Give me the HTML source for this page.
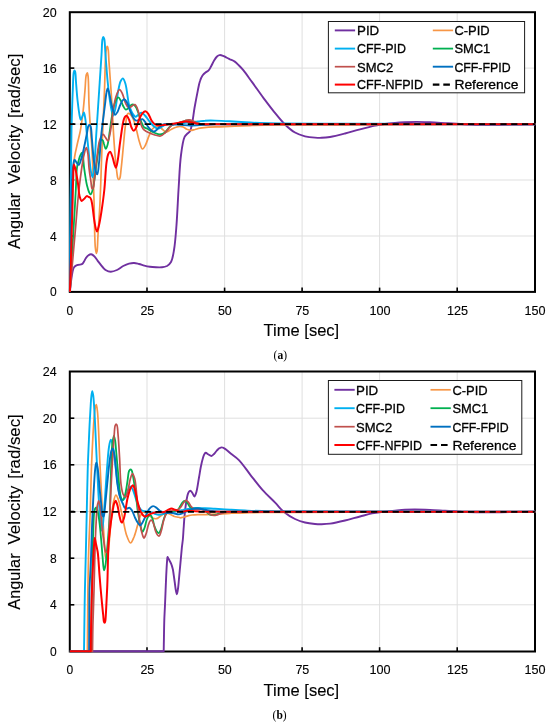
<!DOCTYPE html>
<html lang="en"><head><meta charset="utf-8"><title>Angular velocity responses</title>
<style>html,body{margin:0;padding:0;background:#fff}svg{display:block}</style></head>
<body>
<svg width="550" height="726" viewBox="0 0 550 726">
<rect width="550" height="726" fill="#fff"/>
<g stroke="#dfdfdf" stroke-width="1" fill="none">
<path d="M147.0,12.2 V291.9"/><path d="M224.6,12.2 V291.9"/><path d="M302.1,12.2 V291.9"/><path d="M379.6,12.2 V291.9"/><path d="M457.2,12.2 V291.9"/><path d="M69.8,236.0 H535.0"/><path d="M69.8,180.0 H535.0"/><path d="M69.8,124.1 H535.0"/><path d="M69.8,68.1 H535.0"/>
</g>
<rect x="69.8" y="12.2" width="465.2" height="279.7" fill="none" stroke="#000" stroke-width="2"/>
<g stroke="#000" stroke-width="1.6" fill="none">
<path d="M147.0,291.9 v-4.3"/><path d="M224.6,291.9 v-4.3"/><path d="M302.1,291.9 v-4.3"/><path d="M379.6,291.9 v-4.3"/><path d="M457.2,291.9 v-4.3"/><path d="M69.8,236.0 h4.5"/><path d="M69.8,180.0 h4.5"/><path d="M69.8,124.1 h4.5"/><path d="M69.8,68.1 h4.5"/>
</g>
<g fill="none" stroke-linejoin="round" stroke-linecap="butt">
<path d="M69.9,291.9C69.9,291.9 70.8,283.1 71.3,279.4C71.7,276.5 72.1,273.7 72.6,271.5C73.0,269.9 73.2,268.5 73.9,267.5C74.4,266.7 75.2,266.1 76.0,265.6C76.8,265.2 77.7,265.0 78.6,264.8C79.6,264.5 81.0,264.7 81.9,264.2C82.8,263.7 83.4,262.5 84.0,261.5C84.7,260.5 85.1,259.2 85.8,258.2C86.6,257.2 87.5,256.0 88.5,255.3C89.3,254.7 90.2,254.1 91.1,254.2C92.1,254.3 93.1,255.1 94.0,256.0C95.3,257.1 96.4,259.1 97.7,260.8C99.3,262.9 101.4,265.8 103.0,267.5C104.1,268.7 104.8,269.6 106.0,270.3C107.3,271.1 109.1,271.7 110.8,271.7C112.7,271.7 115.0,270.9 117.0,270.0C119.1,269.0 121.1,267.1 123.2,266.0C125.1,265.0 127.1,264.1 129.0,263.6C130.7,263.2 132.4,262.9 134.1,263.0C135.8,263.1 137.3,263.6 139.0,264.0C140.7,264.4 142.5,265.1 144.3,265.6C146.2,266.1 148.1,266.5 150.0,266.8C152.0,267.1 154.0,267.2 156.0,267.3C158.0,267.4 160.1,267.5 162.0,267.3C163.8,267.1 165.5,266.8 167.0,266.0C168.5,265.1 169.9,263.9 171.0,262.0C172.6,259.2 173.2,254.8 174.0,250.0C175.2,243.2 175.8,234.0 176.5,225.0C177.3,214.3 177.8,201.7 178.5,190.0C179.3,178.3 179.7,164.7 181.0,155.0C181.9,147.9 182.9,140.4 184.6,136.9C185.4,135.2 186.5,134.5 187.5,133.5C188.4,132.6 189.4,132.2 190.1,131.0C191.1,129.3 191.4,126.8 192.0,124.0C192.9,119.8 193.6,113.4 194.5,108.0C195.5,102.4 196.7,96.0 197.7,91.1C198.5,87.3 199.0,83.8 200.0,81.0C200.7,78.8 201.5,77.0 202.5,75.5C203.4,74.3 204.4,73.4 205.5,72.5C206.5,71.7 207.7,71.3 208.6,70.4C209.6,69.4 210.2,68.0 211.0,66.5C212.0,64.7 213.0,62.3 214.1,60.5C215.0,59.0 216.0,57.4 217.0,56.5C217.8,55.8 218.6,55.2 219.5,55.1C220.5,54.9 221.9,55.4 223.0,55.8C224.1,56.2 225.0,56.8 226.1,57.3C227.3,57.9 228.6,58.6 230.0,59.3C231.5,60.0 233.3,60.6 234.8,61.6C236.3,62.6 237.6,64.1 239.0,65.5C240.5,67.0 241.8,68.3 243.5,70.4C246.0,73.5 249.2,78.2 252.3,82.4C255.8,87.2 259.5,92.6 263.2,97.6C266.8,102.4 270.4,107.3 274.1,111.8C277.6,116.1 281.0,120.6 284.7,124.2C288.0,127.4 291.4,130.4 295.0,132.5C298.2,134.3 301.6,135.4 305.0,136.3C308.3,137.1 312.0,137.4 315.0,137.6C317.4,137.8 319.2,137.9 321.5,137.8C324.1,137.7 326.8,137.5 330.0,137.0C334.3,136.3 340.0,134.8 345.0,133.5C350.0,132.2 355.0,130.6 360.0,129.3C365.0,128.0 370.8,126.5 375.0,125.6C378.1,125.0 380.1,124.6 383.0,124.2C386.6,123.7 391.2,123.2 395.0,122.9C398.5,122.6 401.5,122.4 405.0,122.2C408.8,122.0 412.9,121.9 417.0,121.9C421.2,121.9 425.3,122.1 430.0,122.3C435.5,122.5 442.1,123.0 448.0,123.3C453.7,123.6 459.5,123.9 465.0,124.2C470.2,124.4 475.0,124.7 480.0,124.8C485.0,124.9 489.6,124.8 495.0,124.8C501.2,124.8 515.0,124.5 515.0,124.5L535.2,124.2" stroke="#7030a0" stroke-width="1.9"/>
<path d="M69.9,291.9C69.9,291.9 70.5,245.1 71.0,225.0C71.4,208.5 71.7,192.5 72.5,180.0C73.1,171.0 73.6,163.6 74.6,157.0C75.3,152.0 76.4,148.3 77.3,144.0C78.2,139.8 79.3,136.0 80.2,131.5C81.2,126.2 82.0,120.3 82.8,114.0C83.7,106.6 84.4,97.1 85.0,90.0C85.5,84.4 85.5,77.4 86.3,74.8C86.6,73.8 87.0,72.8 87.3,72.8C87.7,72.9 87.8,74.6 88.1,76.4C88.7,81.4 88.6,95.4 89.0,104.5C89.4,113.2 90.0,122.2 90.5,130.0C90.9,136.5 91.5,140.4 91.9,148.0C92.7,160.8 93.4,183.1 94.0,200.0C94.5,216.1 94.5,238.9 95.3,247.2C95.6,250.2 95.9,253.3 96.3,253.3C96.5,253.3 96.8,252.3 97.1,251.2C97.6,248.4 97.6,241.2 98.0,235.0C98.5,226.4 99.3,216.2 99.9,204.5C100.7,188.6 101.2,167.0 102.0,148.0C102.8,128.8 103.8,107.4 104.5,90.0C105.1,75.8 105.0,58.2 106.0,51.4C106.3,48.9 106.8,46.4 107.2,46.4C107.5,46.4 107.8,47.3 108.0,48.2C108.6,50.6 108.6,56.3 109.0,62.0C109.6,71.1 110.7,84.5 111.5,97.3C112.5,112.7 113.4,134.2 114.5,148.0C115.2,157.5 116.1,166.5 116.8,172.0C117.2,174.9 117.3,177.5 117.9,178.6C118.2,179.1 118.5,179.5 118.8,179.5C119.1,179.5 119.5,179.0 119.8,178.4C120.5,177.0 120.6,173.5 121.0,170.0C121.7,164.4 122.5,155.4 123.2,148.0C124.0,140.4 124.5,131.3 125.5,125.0C126.2,120.5 126.6,114.3 128.0,113.5C128.7,113.1 129.8,113.9 130.5,114.5C131.5,115.3 132.2,116.8 133.0,118.5C134.1,120.9 135.0,124.5 136.0,128.0C137.2,132.2 138.2,138.2 139.5,142.0C140.4,144.8 141.4,148.9 142.5,149.0C143.4,149.1 144.6,146.7 145.5,145.0C146.8,142.6 147.8,138.6 149.0,135.9C150.0,133.6 150.7,131.1 152.0,129.5C153.0,128.3 154.2,127.2 155.5,126.8C156.7,126.4 158.1,126.4 159.2,126.8C160.3,127.2 161.1,128.3 162.0,129.0C162.8,129.7 163.4,130.5 164.3,131.0C165.1,131.5 166.0,131.9 167.0,131.8C168.2,131.7 169.6,130.2 171.0,129.5C172.5,128.7 174.3,127.7 175.9,127.2C177.3,126.7 178.7,126.3 180.0,126.3C181.1,126.3 182.1,126.6 183.2,127.0C184.5,127.5 185.7,128.7 187.0,129.3C188.2,129.8 189.3,130.2 190.5,130.3C191.9,130.4 193.5,129.8 195.0,129.5C196.6,129.1 198.1,128.6 200.0,128.2C202.5,127.7 205.5,127.3 208.6,127.1C212.1,126.8 215.9,126.9 220.0,126.8C224.7,126.6 230.0,126.4 235.0,126.2C240.0,126.0 245.0,125.8 250.0,125.6C255.0,125.4 259.4,125.2 265.0,125.1C272.3,124.9 280.2,125.0 290.0,124.9C303.8,124.8 321.4,124.8 340.0,124.8C363.5,124.7 396.5,124.6 420.0,124.5C438.6,124.4 470.0,124.2 470.0,124.2L535.2,124.2" stroke="#f79646" stroke-width="1.7"/>
<path d="M69.9,291.9C69.9,291.9 70.2,228.6 70.5,200.0C70.8,175.1 71.0,150.1 71.5,130.0C71.9,114.8 72.3,100.6 72.8,90.0C73.1,83.0 73.1,75.7 73.7,72.7C74.0,71.5 74.2,70.4 74.5,70.4C74.7,70.4 75.0,71.1 75.2,71.7C75.7,73.5 75.7,78.1 76.0,82.0C76.4,87.2 76.9,94.3 77.5,100.0C78.1,105.2 78.8,111.4 79.5,115.0C79.9,117.1 80.3,119.8 80.8,119.8C81.3,119.8 82.0,117.2 82.5,116.0C83.0,114.8 83.5,112.5 83.9,112.5C84.4,112.5 84.8,115.7 85.2,118.0C85.9,121.9 86.2,128.0 86.8,133.6C87.5,140.2 88.3,148.3 89.0,155.0C89.7,161.0 90.2,168.0 91.0,172.0C91.5,174.3 92.1,177.3 92.6,177.3C93.3,177.2 93.8,170.1 94.3,165.0C95.1,157.0 95.6,144.9 96.3,133.6C97.2,120.3 98.3,103.7 99.2,90.0C100.0,77.7 100.9,64.4 101.5,55.0C101.9,48.6 101.9,41.8 102.5,39.0C102.7,37.9 103.0,36.9 103.3,36.9C103.6,36.9 104.0,37.9 104.3,39.0C105.0,41.8 105.0,49.1 105.5,55.0C106.1,62.4 106.8,72.4 107.5,80.0C108.1,86.5 108.8,92.6 109.5,98.0C110.1,102.4 110.7,106.8 111.5,110.0C112.0,112.2 112.7,115.5 113.3,115.5C114.0,115.5 114.8,111.0 115.5,108.0C116.5,103.7 117.1,96.8 118.0,92.0C118.8,88.1 119.4,83.9 120.5,81.5C121.2,80.1 122.1,78.3 122.9,78.4C123.8,78.5 124.7,81.5 125.5,84.0C126.9,88.6 127.7,99.5 129.0,104.5C129.8,107.5 130.6,109.7 131.5,111.5C132.1,112.8 132.7,113.8 133.4,114.7C134.0,115.5 134.7,116.7 135.5,116.8C136.4,116.9 137.5,115.2 138.5,114.5C139.5,113.8 140.7,112.5 141.7,112.6C142.8,112.7 144.0,114.4 145.0,115.5C146.2,116.8 147.2,118.4 148.3,119.9C149.5,121.4 150.7,123.2 152.0,124.5C153.1,125.7 154.3,126.9 155.5,127.6C156.5,128.2 157.6,128.7 158.5,128.6C159.4,128.5 160.1,127.8 161.0,127.3C162.0,126.7 162.9,125.8 164.0,125.3C165.2,124.8 166.4,124.6 168.0,124.4C170.2,124.1 173.3,124.0 176.0,123.8C178.7,123.6 181.4,123.3 184.0,123.0C186.4,122.7 188.7,122.5 191.0,122.2C193.3,121.9 195.7,121.7 198.0,121.4C200.3,121.2 202.5,120.8 205.0,120.7C208.0,120.5 211.3,120.5 215.0,120.6C219.5,120.7 225.0,121.0 230.0,121.3C235.0,121.6 240.0,122.0 245.0,122.3C250.0,122.6 254.6,122.8 260.0,123.0C266.2,123.2 272.2,123.3 280.0,123.4C291.0,123.5 305.3,123.5 320.0,123.6C338.0,123.7 359.2,123.7 380.0,123.8C402.4,123.9 431.5,124.0 450.0,124.1C462.1,124.1 480.0,124.2 480.0,124.2L535.2,124.2" stroke="#00b0f0" stroke-width="1.9"/>
<path d="M69.9,291.9C69.9,291.9 71.7,259.5 72.6,245.0C73.3,232.5 74.1,220.3 74.7,210.0C75.2,201.8 75.5,195.2 75.9,188.0C76.3,181.0 76.3,172.6 77.0,167.5C77.5,164.4 78.2,162.2 78.8,160.0C79.3,158.2 79.7,156.6 80.3,155.3C80.8,154.2 81.6,152.5 82.0,152.6C82.5,152.7 82.7,155.2 83.0,157.0C83.5,159.9 83.6,164.4 84.2,168.6C84.9,173.6 85.9,180.7 86.9,185.0C87.6,187.8 88.2,190.3 89.0,192.0C89.5,193.1 90.2,194.5 90.8,194.4C91.6,194.3 92.3,190.8 93.0,188.0C94.2,183.2 95.1,174.5 96.0,168.0C96.9,161.8 97.6,155.0 98.5,150.0C99.2,146.3 99.4,141.7 100.6,140.5C101.1,139.9 102.0,139.7 102.5,140.0C103.3,140.4 103.5,142.6 104.0,144.0C104.6,145.5 105.1,148.9 105.7,148.9C106.3,148.9 107.0,146.7 107.5,145.0C108.4,142.1 108.9,137.2 109.5,133.0C110.2,128.5 110.7,123.7 111.5,119.0C112.3,114.1 113.1,107.9 114.5,104.0C115.5,101.2 116.9,97.4 118.1,97.3C119.1,97.2 120.2,99.6 121.0,101.0C121.9,102.5 122.4,104.5 123.2,106.0C123.9,107.3 124.6,109.2 125.5,109.5C126.2,109.7 127.2,109.1 128.0,108.5C128.9,107.8 129.6,106.2 130.5,105.5C131.3,104.9 132.2,104.2 133.0,104.3C133.9,104.4 134.8,105.5 135.5,106.5C136.5,107.8 137.2,109.9 138.0,112.0C139.0,114.6 139.9,118.3 141.0,121.0C141.9,123.3 142.6,126.0 143.9,127.2C144.8,128.1 146.0,128.0 147.0,128.5C148.0,129.1 148.8,129.8 150.0,130.5C151.4,131.3 153.3,132.3 155.0,133.0C156.6,133.7 158.3,134.6 160.0,134.5C161.7,134.4 163.6,133.6 165.0,132.5C166.5,131.4 167.4,129.3 168.6,128.0C169.7,126.8 170.7,125.7 172.0,125.0C173.2,124.3 174.7,124.2 176.0,123.8C177.3,123.4 178.6,123.0 180.0,122.5C181.6,122.0 183.4,121.2 185.0,120.8C186.4,120.5 187.7,120.2 189.0,120.3C190.3,120.4 191.6,121.0 193.0,121.5C194.6,122.1 196.2,123.0 198.0,123.5C200.1,124.0 205.0,124.2 205.0,124.2L535.2,124.2" stroke="#00b050" stroke-width="1.8"/>
<path d="M69.9,291.9C69.9,291.9 72.5,262.2 73.6,250.0C74.4,240.6 75.1,233.3 75.8,225.0C76.5,216.7 77.2,207.3 77.9,200.0C78.4,194.4 78.8,190.5 79.5,185.0C80.3,178.4 81.5,169.1 82.5,163.0C83.2,158.5 84.0,154.3 84.8,151.5C85.3,149.8 85.9,147.6 86.4,147.6C86.9,147.6 87.4,150.7 87.8,153.0C88.5,156.8 88.5,163.6 89.1,168.6C89.6,173.2 90.5,178.4 91.0,182.0C91.3,184.4 91.4,187.0 91.8,188.0C92.0,188.4 92.3,188.8 92.5,188.8C92.8,188.8 93.1,188.4 93.3,187.9C93.9,186.7 93.9,183.9 94.3,181.0C94.9,176.4 95.4,169.2 96.3,162.7C97.3,155.4 98.1,144.3 99.9,139.5C100.8,137.1 102.1,134.5 103.1,134.4C103.9,134.4 104.7,136.4 105.5,137.5C106.3,138.6 107.2,141.0 107.9,140.9C109.0,140.7 109.7,134.9 110.5,131.0C111.5,125.7 112.0,117.8 113.0,111.8C113.9,106.4 114.6,100.5 116.0,96.5C117.0,93.7 118.3,89.8 119.5,89.7C120.5,89.6 121.6,92.2 122.5,94.0C123.7,96.4 124.4,100.7 125.5,103.0C126.3,104.7 127.0,106.4 128.0,107.0C128.7,107.4 129.7,107.4 130.5,107.2C131.4,106.9 132.2,105.7 133.0,105.3C133.7,104.9 134.4,104.4 135.0,104.6C135.8,104.9 136.4,106.3 137.0,107.5C137.8,109.2 138.4,111.6 139.0,114.0C139.8,117.1 140.1,121.8 141.0,124.5C141.6,126.3 142.1,127.6 143.0,128.8C143.8,129.9 144.8,130.5 146.0,131.3C147.6,132.3 150.1,133.3 152.0,134.0C153.7,134.6 155.5,135.2 157.0,135.5C158.3,135.8 159.3,136.3 160.5,136.0C162.0,135.7 163.7,134.2 165.0,133.0C166.4,131.8 167.4,130.0 168.6,128.6C169.7,127.3 170.7,125.9 172.0,125.0C173.2,124.2 174.6,124.0 176.0,123.5C177.6,123.0 179.4,122.5 181.0,122.0C182.5,121.5 184.1,120.9 185.5,120.5C186.7,120.2 187.8,119.8 189.0,119.9C190.3,120.0 191.6,120.5 193.0,121.0C194.5,121.6 196.1,122.7 197.7,123.2C199.4,123.7 201.1,124.0 203.0,124.2C205.2,124.4 210.0,124.2 210.0,124.2L535.2,124.2" stroke="#c0504d" stroke-width="1.7"/>
<path d="M69.9,291.9C69.9,291.9 70.4,249.0 70.8,230.0C71.1,213.8 71.5,197.0 72.0,185.0C72.4,177.0 72.6,169.5 73.3,165.0C73.6,162.7 73.9,159.9 74.5,159.8C75.0,159.7 75.8,161.6 76.5,162.5C77.2,163.3 78.1,165.0 78.8,164.9C79.8,164.7 80.7,160.5 81.5,158.0C82.4,155.0 83.1,151.8 83.9,148.2C84.9,143.7 86.2,137.1 87.0,133.0C87.6,130.2 87.7,127.0 88.5,125.8C88.8,125.3 89.3,124.8 89.7,124.9C90.1,125.0 90.4,125.7 90.7,126.6C91.5,129.0 91.5,135.0 92.0,140.0C92.6,146.6 93.2,156.8 94.1,162.7C94.7,166.5 95.3,169.9 96.0,172.0C96.4,173.1 96.9,174.5 97.3,174.4C98.1,174.3 98.5,167.7 99.0,163.0C99.9,155.5 100.4,143.4 101.4,133.6C102.4,123.9 104.1,112.1 105.0,104.5C105.6,99.6 105.9,95.4 106.5,92.5C106.8,90.8 107.2,88.5 107.6,88.5C108.0,88.5 108.5,90.4 109.0,92.0C109.8,94.9 110.6,100.9 111.5,104.5C112.2,107.2 112.8,109.6 113.5,111.5C114.0,112.8 114.5,114.6 115.2,114.7C115.9,114.8 116.8,113.2 117.5,112.0C118.5,110.4 119.1,107.5 120.0,105.5C120.8,103.7 121.6,101.6 122.5,100.5C123.1,99.8 123.7,99.1 124.3,99.2C125.2,99.3 126.2,101.0 127.0,102.5C128.3,104.7 129.3,109.0 130.5,111.8C131.5,114.1 132.4,116.4 133.5,118.0C134.3,119.1 134.9,120.3 135.9,120.6C136.8,120.9 137.9,120.2 139.0,120.0C140.1,119.8 141.5,118.9 142.5,119.2C143.7,119.6 144.6,121.3 145.5,122.5C146.5,123.9 147.2,125.8 148.3,127.2C149.3,128.5 150.4,129.8 151.5,130.5C152.4,131.1 153.2,131.6 154.1,131.5C155.1,131.4 156.1,130.3 157.0,129.5C158.0,128.6 158.8,127.4 159.9,126.5C161.2,125.6 162.7,124.6 164.3,124.2C166.0,123.8 167.8,124.1 170.0,124.2C172.9,124.3 176.7,124.6 180.0,124.8C183.3,125.0 186.7,125.5 190.0,125.5C193.3,125.5 196.3,125.2 200.0,125.0C204.5,124.8 215.0,124.4 215.0,124.4L535.2,124.2" stroke="#0070c0" stroke-width="1.9"/>
<path d="M69.9,291.9C69.9,291.9 70.8,264.2 71.2,250.0C71.6,235.3 72.1,218.1 72.5,205.0C72.8,194.9 72.9,185.5 73.2,178.0C73.4,172.7 73.3,164.6 73.9,164.5C74.2,164.5 74.8,166.7 75.2,168.0C75.7,169.7 76.0,171.7 76.4,174.0C76.9,177.0 77.6,180.9 78.1,184.5C78.6,188.2 78.7,192.8 79.5,195.8C80.1,197.9 80.7,200.7 81.7,200.9C82.5,201.1 83.6,199.3 84.5,198.5C85.3,197.7 86.0,196.3 86.8,196.1C87.4,196.0 87.9,196.5 88.5,196.8C89.2,197.1 90.0,197.3 90.5,198.0C91.5,199.3 91.8,202.2 92.3,205.0C93.0,208.9 93.4,214.9 94.1,219.1C94.6,222.6 95.2,226.3 95.8,228.5C96.2,229.8 96.6,231.5 97.0,231.5C97.6,231.5 98.2,228.3 98.8,226.0C99.7,222.4 100.6,217.0 101.4,211.8C102.4,205.3 103.5,197.7 104.3,190.0C105.2,181.4 105.6,169.2 106.5,162.7C107.0,159.0 107.4,155.9 108.3,154.0C108.8,152.9 109.5,151.7 110.1,151.8C110.9,151.9 111.8,155.1 112.5,157.0C113.3,159.2 113.8,162.5 114.5,164.5C115.0,165.8 115.5,167.8 115.9,167.8C116.6,167.7 117.2,163.2 117.8,160.0C118.7,155.1 119.3,147.5 120.3,140.9C121.3,133.9 122.6,122.9 123.9,119.1C124.4,117.6 124.9,116.7 125.5,116.2C125.9,115.9 126.4,115.7 126.8,115.9C127.6,116.2 128.3,118.0 129.0,119.5C130.0,121.6 130.5,125.5 131.5,127.5C132.2,128.9 132.9,130.8 133.7,130.8C134.4,130.8 135.3,129.3 136.0,128.0C137.2,125.9 138.0,121.7 139.2,119.1C140.2,116.9 141.3,114.6 142.5,113.3C143.4,112.3 144.4,111.3 145.3,111.3C146.3,111.3 147.4,112.6 148.3,113.8C149.5,115.4 150.3,118.7 151.5,120.5C152.4,121.9 153.3,123.2 154.5,124.0C155.5,124.7 156.7,125.1 158.0,125.3C159.5,125.5 161.3,125.1 163.0,125.0C164.7,124.8 166.2,124.6 168.0,124.4C170.1,124.1 172.8,123.9 175.0,123.5C177.1,123.2 179.1,122.7 181.0,122.3C182.7,122.0 184.3,121.4 186.0,121.4C187.7,121.4 189.3,121.8 191.0,122.2C192.9,122.6 194.8,123.5 197.0,123.8C199.5,124.2 205.0,124.2 205.0,124.2L535.2,124.2" stroke="#ff0000" stroke-width="2.0"/>
<path d="M69.2,124.2 H535.0" stroke="#000" stroke-width="1.7" stroke-dasharray="6.2 4.58"/>
</g>
<g font-family="Liberation Sans, Arial, sans-serif" fill="#000" stroke="#000" stroke-width="0.12">
<text x="56.6" y="296.4" font-size="13.0" text-anchor="end" textLength="6.7" lengthAdjust="spacingAndGlyphs" >0</text>
<text x="56.6" y="240.5" font-size="13.0" text-anchor="end" textLength="6.7" lengthAdjust="spacingAndGlyphs" >4</text>
<text x="56.6" y="184.5" font-size="13.0" text-anchor="end" textLength="6.7" lengthAdjust="spacingAndGlyphs" >8</text>
<text x="56.6" y="128.6" font-size="13.0" text-anchor="end" textLength="13.9" lengthAdjust="spacingAndGlyphs" >12</text>
<text x="56.6" y="72.6" font-size="13.0" text-anchor="end" textLength="13.9" lengthAdjust="spacingAndGlyphs" >16</text>
<text x="56.6" y="16.7" font-size="13.0" text-anchor="end" textLength="13.9" lengthAdjust="spacingAndGlyphs" >20</text>
<text x="66.5" y="315.2" font-size="13.0" text-anchor="start" textLength="6.7" lengthAdjust="spacingAndGlyphs" >0</text>
<text x="140.4" y="315.2" font-size="13.0" text-anchor="start" textLength="13.9" lengthAdjust="spacingAndGlyphs" >25</text>
<text x="217.9" y="315.2" font-size="13.0" text-anchor="start" textLength="13.9" lengthAdjust="spacingAndGlyphs" >50</text>
<text x="295.4" y="315.2" font-size="13.0" text-anchor="start" textLength="13.9" lengthAdjust="spacingAndGlyphs" >75</text>
<text x="369.4" y="315.2" font-size="13.0" text-anchor="start" textLength="21.1" lengthAdjust="spacingAndGlyphs" >100</text>
<text x="446.9" y="315.2" font-size="13.0" text-anchor="start" textLength="21.1" lengthAdjust="spacingAndGlyphs" >125</text>
<text x="524.4" y="315.2" font-size="13.0" text-anchor="start" textLength="21.1" lengthAdjust="spacingAndGlyphs" >150</text>
<text x="263.6" y="336.4" font-size="16.0" text-anchor="start" textLength="75.6" lengthAdjust="spacingAndGlyphs" >Time [sec]</text>
<text transform="translate(20.3,249.0) rotate(-90)" font-size="16" textLength="56.3" lengthAdjust="spacingAndGlyphs">Angular</text>
<text transform="translate(20.3,183.9) rotate(-90)" font-size="16" textLength="58.9" lengthAdjust="spacingAndGlyphs">Velocity</text>
<text transform="translate(20.3,118.0) rotate(-90)" font-size="16" textLength="64.4" lengthAdjust="spacingAndGlyphs">[rad/sec]</text>
</g>
<rect x="328.4" y="21.5" width="196.2" height="71.3" fill="#fff" stroke="#1a1a1a" stroke-width="1"/>
<g font-family="Liberation Sans, Arial, sans-serif" fill="#000" stroke="#000" stroke-width="0.3">
<path d="M334.8,30.4 h20.3" stroke="#7030a0" stroke-width="1.9" fill="none"/><text x="357.0" y="35.2" font-size="13.5" text-anchor="start" textLength="22.2" lengthAdjust="spacingAndGlyphs" >PID</text>
<path d="M334.8,48.6 h20.3" stroke="#00b0f0" stroke-width="1.9" fill="none"/><text x="357.0" y="53.4" font-size="13.5" text-anchor="start" textLength="49.0" lengthAdjust="spacingAndGlyphs" >CFF-PID</text>
<path d="M334.8,66.7 h20.3" stroke="#c0504d" stroke-width="1.7" fill="none"/><text x="357.0" y="71.5" font-size="13.5" text-anchor="start" textLength="36.2" lengthAdjust="spacingAndGlyphs" >SMC2</text>
<path d="M334.8,84.6 h20.3" stroke="#ff0000" stroke-width="2.0" fill="none"/><text x="357.0" y="89.4" font-size="13.5" text-anchor="start" textLength="66.0" lengthAdjust="spacingAndGlyphs" >CFF-NFPID</text>
<path d="M432.8,30.4 h20.3" stroke="#f79646" stroke-width="1.7" fill="none"/><text x="454.4" y="35.2" font-size="13.5" text-anchor="start" textLength="35.2" lengthAdjust="spacingAndGlyphs" >C-PID</text>
<path d="M432.8,48.6 h20.3" stroke="#00b050" stroke-width="1.8" fill="none"/><text x="454.4" y="53.4" font-size="13.5" text-anchor="start" textLength="35.8" lengthAdjust="spacingAndGlyphs" >SMC1</text>
<path d="M432.8,66.7 h20.3" stroke="#0070c0" stroke-width="1.9" fill="none"/><text x="454.4" y="71.5" font-size="13.5" text-anchor="start" textLength="56.2" lengthAdjust="spacingAndGlyphs" >CFF-FPID</text>
<path d="M432.8,84.6 h20.3" stroke="#000" stroke-width="2.2" stroke-dasharray="6.6 3.9" fill="none"/><text x="454.4" y="89.4" font-size="13.5" text-anchor="start" textLength="64.0" lengthAdjust="spacingAndGlyphs" >Reference</text>
</g>
<text x="273.6" y="359.0" font-family="Liberation Serif, Times New Roman, serif" font-size="11.5" fill="#000">(<tspan font-weight="bold">a</tspan>)</text>
<g stroke="#dfdfdf" stroke-width="1" fill="none">
<path d="M147.0,371.5 V651.5"/><path d="M224.6,371.5 V651.5"/><path d="M302.1,371.5 V651.5"/><path d="M379.6,371.5 V651.5"/><path d="M457.2,371.5 V651.5"/><path d="M69.8,604.8 H535.0"/><path d="M69.8,558.2 H535.0"/><path d="M69.8,511.5 H535.0"/><path d="M69.8,464.8 H535.0"/><path d="M69.8,418.2 H535.0"/>
</g>
<rect x="69.8" y="371.5" width="465.2" height="280.0" fill="none" stroke="#000" stroke-width="2"/>
<g stroke="#000" stroke-width="1.6" fill="none">
<path d="M147.0,651.5 v-4.3"/><path d="M224.6,651.5 v-4.3"/><path d="M302.1,651.5 v-4.3"/><path d="M379.6,651.5 v-4.3"/><path d="M457.2,651.5 v-4.3"/><path d="M69.8,604.8 h4.5"/><path d="M69.8,558.2 h4.5"/><path d="M69.8,511.5 h4.5"/><path d="M69.8,464.8 h4.5"/><path d="M69.8,418.2 h4.5"/>
</g>
<g fill="none" stroke-linejoin="round" stroke-linecap="butt">
<path d="M69.9,651.3L163.7,651.3C163.7,651.3 163.8,644.3 163.9,640.0C164.0,634.3 164.1,626.2 164.3,620.0C164.5,614.6 164.7,610.8 165.0,605.0C165.4,596.9 165.8,583.7 166.2,575.8C166.5,570.3 166.7,565.5 167.0,562.0C167.2,559.9 167.1,557.1 167.5,557.0C167.7,557.0 168.0,557.8 168.3,558.3C168.7,558.9 169.1,559.7 169.5,560.5C170.0,561.5 170.6,562.5 171.1,563.7C171.8,565.3 172.4,567.5 172.9,569.5C173.3,571.5 173.5,573.5 173.8,575.5C174.1,577.6 174.4,579.7 174.7,582.0C175.1,584.6 175.4,588.3 175.9,590.5C176.2,592.0 176.6,594.2 176.9,594.2C177.2,594.2 177.5,591.6 177.8,590.0C178.2,587.8 178.4,585.3 178.7,582.0C179.2,576.9 179.9,568.5 180.5,562.4C181.0,557.0 181.5,551.3 181.9,547.2C182.2,544.4 182.5,542.8 182.8,540.0C183.2,536.1 183.4,530.6 183.8,526.0C184.1,521.4 184.4,516.7 184.9,512.4C185.3,508.4 185.8,504.4 186.4,501.0C186.9,498.2 187.4,495.1 188.1,493.4C188.5,492.4 188.9,491.6 189.4,491.2C189.8,490.9 190.2,490.7 190.6,490.8C191.2,491.0 191.8,492.2 192.4,493.0C193.1,494.0 193.8,496.5 194.4,496.5C195.1,496.5 195.8,494.0 196.4,492.0C197.4,488.6 198.2,481.9 199.0,477.5C199.7,473.7 200.1,470.3 200.8,467.0C201.4,464.0 202.1,460.8 202.8,458.5C203.3,456.9 203.6,455.5 204.2,454.5C204.6,453.8 205.1,452.9 205.7,452.8C206.5,452.7 207.5,454.0 208.5,454.5C209.4,455.0 210.5,456.1 211.4,456.0C212.3,455.9 213.2,454.8 214.0,454.0C215.0,453.1 215.8,451.6 216.8,450.6C217.7,449.7 218.5,448.7 219.5,448.2C220.3,447.7 221.2,447.3 222.1,447.4C223.3,447.5 224.7,448.6 226.0,449.5C227.6,450.6 229.1,452.2 231.0,453.8C233.3,455.7 236.2,457.4 238.9,460.1C242.5,463.7 246.2,469.4 250.0,474.3C254.1,479.5 258.3,485.3 262.7,490.2C266.8,494.8 271.6,499.0 275.4,502.9C278.5,506.1 280.5,509.1 283.7,511.8C287.0,514.5 291.2,517.2 295.0,519.0C298.3,520.6 301.6,521.7 305.0,522.5C308.3,523.3 312.0,523.7 315.0,524.0C317.4,524.2 319.2,524.2 321.5,524.2C324.1,524.1 326.8,524.0 330.0,523.6C334.3,523.0 340.0,521.7 345.0,520.5C350.0,519.3 355.3,517.7 360.0,516.5C364.2,515.4 368.2,514.2 372.0,513.4C375.5,512.7 378.4,512.4 382.0,512.0C386.0,511.5 390.9,511.0 395.0,510.6C398.5,510.3 401.7,510.0 405.0,509.8C408.3,509.6 411.2,509.5 414.8,509.5C419.3,509.5 425.0,509.7 430.0,509.9C435.0,510.1 439.9,510.5 445.0,510.8C450.4,511.1 455.8,511.5 461.5,511.8C467.5,512.0 473.7,512.2 480.0,512.3C486.5,512.4 492.4,512.3 500.0,512.2C510.1,512.1 535.2,511.8 535.2,511.8" stroke="#7030a0" stroke-width="1.9"/>
<path d="M69.9,651.3L87.4,651.3C87.4,651.3 87.5,634.4 87.6,625.0C87.7,614.2 87.7,602.1 87.9,590.0C88.1,577.1 88.3,563.3 88.7,550.0C89.1,536.7 89.9,522.9 90.3,510.0C90.7,497.9 90.8,486.4 91.2,475.0C91.6,464.0 92.0,453.2 92.6,442.7C93.1,432.7 93.8,420.0 94.5,413.6C94.8,410.4 95.1,408.1 95.5,406.5C95.7,405.6 96.1,404.6 96.3,404.6C96.8,404.7 97.1,408.4 97.5,412.0C98.5,421.4 99.1,446.1 99.9,463.0C100.7,479.8 101.7,498.2 102.5,513.0C103.2,524.9 103.9,536.9 104.5,545.0C104.9,549.9 104.9,554.9 105.6,556.9C105.9,557.8 106.2,558.5 106.5,558.5C106.8,558.5 107.1,558.1 107.4,557.5C108.0,556.2 108.1,553.3 108.5,550.0C109.2,543.6 110.1,530.5 111.0,522.0C111.8,514.8 112.4,506.9 113.5,502.0C114.2,499.0 115.0,495.1 115.9,495.0C116.7,494.9 117.7,498.0 118.5,500.0C119.5,502.7 120.2,506.6 121.0,510.0C121.8,513.4 122.4,516.7 123.2,520.5C124.2,524.9 125.1,531.0 126.5,535.0C127.6,538.1 129.2,543.0 130.5,543.0C131.7,543.0 132.9,539.4 134.0,537.0C135.4,533.7 136.6,528.5 137.7,524.8C138.6,521.6 139.2,518.2 140.3,516.0C141.1,514.4 142.1,512.6 143.2,512.2C144.1,511.9 145.1,512.4 146.0,512.8C147.2,513.3 148.4,514.6 149.5,515.5C150.6,516.3 151.4,517.5 152.6,518.0C153.7,518.5 155.1,518.9 156.3,518.7C157.6,518.5 158.8,517.3 160.0,516.5C161.3,515.7 162.6,514.3 164.0,513.8C165.3,513.4 166.7,513.3 168.0,513.5C169.2,513.7 170.4,514.5 171.5,515.0C172.5,515.5 173.4,516.1 174.5,516.5C175.8,516.9 177.7,517.0 178.8,517.3C179.5,517.5 179.8,517.8 180.5,517.8C181.5,517.8 182.8,517.3 184.0,517.0C185.3,516.7 186.7,516.1 188.0,515.8C189.3,515.5 190.5,515.2 192.0,515.0C193.8,514.8 195.9,514.7 198.0,514.6C200.2,514.5 202.5,514.7 205.0,514.6C208.0,514.5 211.3,514.4 215.0,514.2C219.5,514.0 225.0,513.5 230.0,513.3C235.0,513.1 239.8,512.9 245.0,512.8C250.5,512.7 255.2,512.6 262.0,512.5C272.2,512.4 285.0,512.4 300.0,512.3C321.8,512.2 354.2,512.2 380.0,512.1C404.1,512.0 433.7,511.9 450.0,511.8C458.7,511.8 470.0,511.8 470.0,511.8L535.2,511.8" stroke="#f79646" stroke-width="1.7"/>
<path d="M69.9,651.3L84.0,651.3C84.0,651.3 84.2,638.2 84.3,630.0C84.5,618.8 84.6,603.3 84.9,590.0C85.2,576.7 85.6,563.3 85.9,550.0C86.2,536.7 86.5,523.3 86.8,510.0C87.1,496.7 87.3,482.4 87.7,470.0C88.0,459.3 88.5,449.8 88.9,440.0C89.3,430.5 89.8,420.0 90.3,412.0C90.7,405.9 90.9,399.8 91.4,396.0C91.7,393.9 92.0,391.1 92.3,391.1C92.6,391.1 93.0,393.8 93.3,396.0C93.9,400.7 94.3,409.7 94.8,418.0C95.4,428.7 95.9,442.4 96.5,455.0C97.1,468.1 97.8,483.0 98.5,495.0C99.1,504.9 99.8,515.8 100.3,522.0C100.6,525.3 100.6,528.3 101.1,529.6C101.2,530.1 101.5,530.6 101.7,530.6C101.9,530.6 102.1,530.2 102.3,529.8C102.7,528.8 102.7,526.6 103.0,524.0C103.6,518.4 104.3,507.1 105.0,498.0C105.7,487.9 106.4,475.3 107.2,466.0C107.8,458.8 108.2,451.8 109.0,447.0C109.5,444.0 110.1,439.8 110.8,439.8C111.3,439.8 112.0,442.2 112.5,444.0C113.4,447.3 113.8,452.9 114.5,458.0C115.3,464.1 116.1,471.7 117.0,478.0C117.8,483.7 118.4,490.2 119.5,494.3C120.2,496.9 120.9,500.2 122.0,500.5C122.7,500.7 123.8,499.5 124.5,498.5C125.5,497.1 126.2,494.4 127.0,492.5C127.7,490.9 128.2,489.0 129.0,488.0C129.5,487.3 130.2,486.4 130.8,486.5C131.5,486.6 132.2,488.2 132.8,489.5C133.7,491.4 134.4,494.4 135.3,497.0C136.2,499.7 137.1,503.1 138.3,505.5C139.2,507.4 140.2,509.2 141.5,510.2C142.5,511.0 143.8,511.1 145.0,511.3C146.2,511.5 147.3,511.3 148.5,511.5C149.7,511.7 150.8,512.1 152.0,512.5C153.2,512.9 154.4,513.6 155.5,514.0C156.5,514.4 157.4,514.8 158.5,514.8C159.8,514.9 161.5,514.3 163.0,514.0C164.6,513.7 166.2,513.2 168.0,512.8C170.1,512.3 172.6,511.9 175.0,511.5C177.6,511.0 180.6,510.5 183.2,510.0C185.6,509.5 187.8,508.9 190.0,508.6C192.1,508.3 193.8,508.1 196.0,508.0C198.7,507.9 201.9,508.1 205.0,508.2C208.2,508.3 211.3,508.6 215.0,508.8C219.5,509.1 225.0,509.4 230.0,509.7C235.0,510.0 239.8,510.3 245.0,510.5C250.5,510.7 255.2,510.9 262.0,511.0C272.2,511.2 285.0,511.1 300.0,511.2C321.8,511.3 353.3,511.3 380.0,511.4C406.7,511.5 442.2,511.6 460.0,511.7C468.9,511.7 480.0,511.8 480.0,511.8L535.2,511.8" stroke="#00b0f0" stroke-width="1.9"/>
<path d="M69.9,651.3L91.3,651.3C91.3,651.3 91.4,634.4 91.5,625.0C91.6,614.2 91.7,601.7 91.9,590.0C92.1,578.3 92.3,565.7 92.6,555.0C92.8,546.0 93.0,537.5 93.3,530.0C93.5,523.8 93.6,517.1 94.1,513.2C94.4,511.1 94.7,509.5 95.2,508.5C95.5,507.9 96.0,507.3 96.3,507.4C96.8,507.5 97.1,509.1 97.5,510.5C98.2,512.9 98.7,516.7 99.2,520.5C99.9,525.5 100.5,532.1 101.0,538.0C101.6,544.0 102.0,550.3 102.5,556.0C103.0,561.1 103.3,570.3 104.0,570.4C104.4,570.4 104.9,567.8 105.3,566.0C105.9,563.2 106.1,559.5 106.5,555.4C107.1,549.7 107.8,541.9 108.3,535.0C108.9,527.9 109.4,521.1 109.8,513.2C110.3,503.7 110.4,491.9 110.7,482.0C111.0,472.9 111.1,463.4 111.5,456.0C111.8,450.5 112.0,445.2 112.6,441.5C113.0,439.1 113.5,435.8 113.9,435.8C114.3,435.8 114.8,438.9 115.2,441.0C115.7,444.2 115.9,448.4 116.3,453.0C116.8,459.0 117.6,467.6 118.2,474.0C118.7,479.4 119.0,484.7 119.6,489.0C120.0,492.2 120.2,495.5 121.0,497.5C121.5,498.7 122.1,500.1 122.7,500.1C123.5,500.0 124.3,497.2 125.0,495.0C126.1,491.5 126.8,485.3 127.5,481.0C128.1,477.3 128.2,472.6 129.2,470.8C129.5,470.1 130.1,469.5 130.5,469.5C130.9,469.5 131.3,469.8 131.6,470.2C132.3,471.2 132.5,473.4 133.0,476.0C134.0,481.0 135.4,491.8 136.3,498.6C137.0,504.1 137.3,508.8 138.1,513.6C138.8,518.1 139.7,523.2 140.6,526.5C141.2,528.7 141.8,531.8 142.5,531.8C143.1,531.8 143.9,529.6 144.5,528.0C145.4,525.8 145.9,521.7 146.8,519.5C147.4,518.0 148.0,516.5 148.8,515.8C149.3,515.3 150.0,514.9 150.5,515.1C151.2,515.3 151.8,516.8 152.3,518.0C153.1,519.8 153.4,523.0 154.1,525.3C154.8,527.3 155.6,529.6 156.5,531.0C157.2,532.0 158.0,533.3 158.7,533.2C159.5,533.1 160.3,530.8 161.0,529.0C162.2,526.2 163.1,520.4 164.3,517.5C165.1,515.5 165.8,513.8 167.0,512.8C168.1,511.9 169.7,511.8 171.0,511.5C172.3,511.2 173.8,511.3 175.0,511.0C176.1,510.7 177.2,510.5 178.0,509.8C179.0,509.0 179.5,507.3 180.3,506.0C181.2,504.6 182.0,502.7 183.0,501.8C183.6,501.2 184.3,500.7 185.0,500.8C185.8,500.9 186.7,502.1 187.5,503.0C188.4,504.1 189.0,506.0 190.0,507.0C190.9,507.8 191.8,508.3 193.0,508.6C194.4,509.0 196.3,508.5 198.0,508.6C199.7,508.7 201.5,508.8 203.0,509.5C204.5,510.2 205.8,511.6 207.0,512.5C208.1,513.3 208.9,514.2 210.0,514.6C211.1,515.0 212.3,515.2 213.5,515.2C214.7,515.2 215.7,514.7 217.0,514.3C218.5,513.8 220.1,513.0 222.0,512.6C224.3,512.1 230.0,511.8 230.0,511.8L535.2,511.8" stroke="#00b050" stroke-width="1.8"/>
<path d="M69.9,651.3L92.5,651.3C92.5,651.3 92.7,634.4 92.9,625.0C93.2,614.2 93.7,601.4 94.0,590.0C94.3,579.1 94.5,568.7 94.8,558.0C95.1,547.1 95.5,534.5 96.0,525.0C96.4,517.8 96.6,510.3 97.3,506.0C97.7,503.7 98.2,500.8 98.7,500.8C99.1,500.8 99.6,503.7 100.0,506.0C100.8,510.7 101.3,520.9 102.1,527.7C102.8,533.8 103.6,540.6 104.3,545.0C104.7,547.7 104.9,550.5 105.5,551.6C105.8,552.1 106.2,552.5 106.5,552.5C106.8,552.5 107.1,552.1 107.3,551.5C107.9,550.2 108.0,547.6 108.3,544.0C109.1,535.3 109.8,512.6 110.5,498.6C111.1,486.6 111.6,475.8 112.2,465.0C112.8,455.0 113.5,443.3 114.1,436.0C114.5,431.6 114.5,427.3 115.2,425.5C115.5,424.8 115.8,424.1 116.1,424.1C116.4,424.1 116.7,424.6 117.0,425.2C117.6,426.7 117.7,430.4 118.0,434.0C118.6,440.0 119.1,449.8 119.6,458.0C120.1,466.5 120.1,477.4 121.0,484.1C121.6,488.4 122.1,492.2 123.2,494.5C123.8,495.8 124.7,497.3 125.4,497.2C126.4,497.0 127.2,492.7 128.0,490.0C128.9,486.7 129.4,482.0 130.3,479.0C131.0,476.8 131.8,473.5 132.5,473.5C133.3,473.5 134.1,476.4 134.8,479.0C136.2,484.5 136.8,498.4 137.7,505.9C138.3,511.4 138.8,515.4 139.5,520.0C140.2,524.6 141.1,530.2 142.1,533.5C142.7,535.4 143.3,538.0 144.0,538.0C144.6,538.0 145.4,535.6 146.0,534.0C146.9,531.7 147.5,527.7 148.3,525.3C148.9,523.6 149.3,521.8 150.0,521.0C150.4,520.5 151.0,520.1 151.5,520.2C152.2,520.4 152.8,521.8 153.3,523.0C154.2,524.9 154.7,528.8 155.5,531.0C156.1,532.6 156.7,534.2 157.5,535.0C158.0,535.6 158.7,536.2 159.2,536.0C160.1,535.7 160.8,532.2 161.5,530.0C162.3,527.3 162.6,523.9 163.5,520.9C164.5,517.9 165.6,513.9 167.2,512.2C168.3,511.1 169.7,510.8 171.0,510.5C172.3,510.2 173.8,510.4 175.0,510.2C176.1,510.0 177.1,509.9 178.0,509.5C178.9,509.0 179.7,508.4 180.5,507.5C181.6,506.3 182.5,504.1 183.5,502.8C184.3,501.8 185.1,500.4 186.0,500.4C186.8,500.4 187.7,501.5 188.5,502.3C189.4,503.3 190.0,505.1 191.0,506.2C191.9,507.3 192.8,508.5 194.0,509.0C195.2,509.5 196.6,509.4 198.0,509.5C199.6,509.6 201.5,509.2 203.0,509.6C204.5,510.0 205.7,511.0 207.0,511.8C208.2,512.6 209.3,514.0 210.5,514.6C211.6,515.2 212.8,515.5 214.0,515.5C215.3,515.5 216.5,515.0 218.0,514.6C219.8,514.1 221.8,513.1 224.0,512.6C226.4,512.1 232.0,511.8 232.0,511.8L535.2,511.8" stroke="#c0504d" stroke-width="1.7"/>
<path d="M69.9,651.3L89.1,651.3C89.1,651.3 89.2,634.4 89.2,625.0C89.3,614.2 89.2,601.2 89.5,590.0C89.8,579.6 90.5,570.7 90.9,560.0C91.4,547.6 91.7,533.0 92.3,520.0C92.8,507.7 93.5,493.6 94.1,484.0C94.5,477.6 94.8,471.9 95.3,468.0C95.6,465.7 95.9,462.7 96.3,462.7C96.7,462.7 97.1,465.0 97.5,467.0C98.4,471.8 99.2,484.2 99.9,491.4C100.5,497.2 101.0,502.6 101.5,507.0C101.8,510.2 101.9,514.0 102.4,515.4C102.7,516.0 102.9,516.5 103.2,516.5C103.4,516.5 103.7,516.1 103.9,515.6C104.4,514.5 104.5,511.9 104.8,509.0C105.4,503.4 106.4,492.2 107.2,484.1C108.0,476.5 108.7,468.1 109.5,462.0C110.1,457.7 110.5,453.3 111.3,451.0C111.7,449.8 112.3,448.4 112.7,448.5C113.4,448.6 113.9,452.0 114.5,455.0C115.7,461.2 116.2,476.3 117.4,484.0C118.2,489.2 118.9,493.3 120.0,497.0C120.9,499.9 122.3,502.6 123.2,504.5C123.7,505.7 123.9,506.8 124.6,507.5C125.2,508.1 126.2,508.6 127.0,508.6C127.8,508.6 128.6,507.6 129.4,507.8C130.3,508.0 131.2,509.3 132.0,510.5C133.2,512.3 134.1,515.8 135.2,518.0C136.1,519.9 137.0,521.7 138.0,523.0C138.7,524.0 139.5,525.4 140.3,525.3C141.2,525.2 142.0,523.3 142.8,522.0C143.7,520.4 144.5,518.5 145.4,516.5C146.5,514.3 147.8,511.0 149.0,509.3C149.8,508.2 150.7,507.3 151.5,506.8C152.1,506.4 152.7,506.0 153.4,506.1C154.3,506.2 155.5,507.1 156.5,507.8C157.6,508.6 158.5,509.9 159.9,510.7C161.5,511.7 163.9,512.6 165.7,512.9C167.2,513.1 168.6,512.6 170.0,512.7C171.4,512.8 172.6,512.9 174.0,513.2C175.5,513.5 177.3,514.5 178.8,514.4C180.3,514.3 181.6,513.6 183.0,513.0C184.4,512.4 185.5,511.6 187.0,511.0C188.9,510.2 191.4,509.2 193.4,508.8C195.0,508.5 196.4,508.4 198.0,508.5C199.9,508.6 201.9,509.1 204.0,509.5C206.5,509.9 209.0,510.6 212.0,511.0C215.8,511.5 225.0,511.8 225.0,511.8L535.2,511.8" stroke="#0070c0" stroke-width="1.9"/>
<path d="M69.9,651.3L90.8,651.3C90.8,651.3 90.9,634.4 91.1,625.0C91.3,614.2 91.6,601.2 92.0,590.0C92.3,579.6 92.8,568.6 93.2,560.0C93.5,553.5 93.8,547.0 94.2,543.0C94.4,540.8 94.5,537.9 94.8,537.9C95.1,537.9 95.6,541.8 96.0,544.0C96.5,546.5 97.2,548.6 97.7,552.0C98.5,557.7 98.9,567.3 99.5,575.0C100.1,582.7 100.8,590.9 101.5,598.0C102.1,604.1 102.7,610.6 103.2,615.0C103.5,617.8 103.5,620.6 104.0,621.8C104.1,622.3 104.4,622.7 104.6,622.7C104.8,622.7 105.1,622.1 105.2,621.5C105.7,619.8 105.7,616.0 106.0,612.0C106.4,605.3 106.9,595.0 107.3,585.0C107.8,572.5 107.9,553.7 108.6,543.0C109.1,536.4 109.7,532.1 110.3,527.0C110.9,522.2 111.6,517.3 112.3,513.2C112.9,509.8 113.3,506.2 114.0,504.0C114.5,502.6 115.1,500.8 115.6,500.8C116.2,500.8 116.9,503.6 117.5,505.5C118.3,508.3 118.8,513.1 119.5,516.0C120.0,518.1 120.4,520.4 121.0,521.5C121.3,522.1 121.7,522.7 122.0,522.6C122.6,522.5 123.4,520.1 124.0,518.0C125.3,513.8 126.2,504.0 127.5,498.6C128.4,494.7 129.3,490.9 130.5,488.5C131.2,487.1 132.1,485.2 132.8,485.3C133.6,485.4 134.3,488.0 135.0,490.0C136.0,492.9 136.5,497.8 137.5,501.5C138.5,505.2 139.5,509.5 141.0,512.2C142.0,514.1 143.3,516.1 144.6,516.5C145.7,516.8 146.9,515.8 148.0,515.3C149.1,514.8 150.1,514.1 151.2,513.6C152.4,513.1 153.6,512.7 155.0,512.5C156.5,512.3 158.4,512.4 160.0,512.3C161.4,512.2 162.7,512.4 164.0,512.0C165.4,511.6 166.7,510.4 168.0,509.8C169.2,509.3 170.3,508.5 171.5,508.5C172.7,508.5 173.8,509.3 175.0,509.8C176.3,510.3 177.6,511.2 179.0,511.5C180.3,511.8 181.7,511.6 183.0,511.5C184.3,511.4 185.6,510.9 187.0,510.8C188.6,510.7 190.1,510.9 192.0,511.0C194.4,511.1 200.0,511.6 200.0,511.6L535.2,511.8" stroke="#ff0000" stroke-width="2.0"/>
<path d="M69.2,511.8 H535.0" stroke="#000" stroke-width="1.7" stroke-dasharray="6.2 4.58"/>
</g>
<g font-family="Liberation Sans, Arial, sans-serif" fill="#000" stroke="#000" stroke-width="0.12">
<text x="56.6" y="656.0" font-size="13.0" text-anchor="end" textLength="6.7" lengthAdjust="spacingAndGlyphs" >0</text>
<text x="56.6" y="609.3" font-size="13.0" text-anchor="end" textLength="6.7" lengthAdjust="spacingAndGlyphs" >4</text>
<text x="56.6" y="562.7" font-size="13.0" text-anchor="end" textLength="6.7" lengthAdjust="spacingAndGlyphs" >8</text>
<text x="56.6" y="516.0" font-size="13.0" text-anchor="end" textLength="13.9" lengthAdjust="spacingAndGlyphs" >12</text>
<text x="56.6" y="469.3" font-size="13.0" text-anchor="end" textLength="13.9" lengthAdjust="spacingAndGlyphs" >16</text>
<text x="56.6" y="422.7" font-size="13.0" text-anchor="end" textLength="13.9" lengthAdjust="spacingAndGlyphs" >20</text>
<text x="56.6" y="376.0" font-size="13.0" text-anchor="end" textLength="13.9" lengthAdjust="spacingAndGlyphs" >24</text>
<text x="66.5" y="674.4" font-size="13.0" text-anchor="start" textLength="6.7" lengthAdjust="spacingAndGlyphs" >0</text>
<text x="140.4" y="674.4" font-size="13.0" text-anchor="start" textLength="13.9" lengthAdjust="spacingAndGlyphs" >25</text>
<text x="217.9" y="674.4" font-size="13.0" text-anchor="start" textLength="13.9" lengthAdjust="spacingAndGlyphs" >50</text>
<text x="295.4" y="674.4" font-size="13.0" text-anchor="start" textLength="13.9" lengthAdjust="spacingAndGlyphs" >75</text>
<text x="369.4" y="674.4" font-size="13.0" text-anchor="start" textLength="21.1" lengthAdjust="spacingAndGlyphs" >100</text>
<text x="446.9" y="674.4" font-size="13.0" text-anchor="start" textLength="21.1" lengthAdjust="spacingAndGlyphs" >125</text>
<text x="524.4" y="674.4" font-size="13.0" text-anchor="start" textLength="21.1" lengthAdjust="spacingAndGlyphs" >150</text>
<text x="263.6" y="695.6" font-size="16.0" text-anchor="start" textLength="75.6" lengthAdjust="spacingAndGlyphs" >Time [sec]</text>
<text transform="translate(20.3,609.7) rotate(-90)" font-size="16" textLength="56.3" lengthAdjust="spacingAndGlyphs">Angular</text>
<text transform="translate(20.3,544.6) rotate(-90)" font-size="16" textLength="58.9" lengthAdjust="spacingAndGlyphs">Velocity</text>
<text transform="translate(20.3,478.7) rotate(-90)" font-size="16" textLength="64.4" lengthAdjust="spacingAndGlyphs">[rad/sec]</text>
</g>
<rect x="328.4" y="380.5" width="193.4" height="73.8" fill="#fff" stroke="#1a1a1a" stroke-width="1"/>
<g font-family="Liberation Sans, Arial, sans-serif" fill="#000" stroke="#000" stroke-width="0.3">
<path d="M334.4,389.8 h20.3" stroke="#7030a0" stroke-width="1.9" fill="none"/><text x="356.0" y="394.6" font-size="13.5" text-anchor="start" textLength="22.2" lengthAdjust="spacingAndGlyphs" >PID</text>
<path d="M334.4,408.2 h20.3" stroke="#00b0f0" stroke-width="1.9" fill="none"/><text x="356.0" y="413.0" font-size="13.5" text-anchor="start" textLength="49.0" lengthAdjust="spacingAndGlyphs" >CFF-PID</text>
<path d="M334.4,426.7 h20.3" stroke="#c0504d" stroke-width="1.7" fill="none"/><text x="356.0" y="431.5" font-size="13.5" text-anchor="start" textLength="36.2" lengthAdjust="spacingAndGlyphs" >SMC2</text>
<path d="M334.4,445.0 h20.3" stroke="#ff0000" stroke-width="2.0" fill="none"/><text x="356.0" y="449.8" font-size="13.5" text-anchor="start" textLength="66.0" lengthAdjust="spacingAndGlyphs" >CFF-NFPID</text>
<path d="M430.5,389.8 h20.3" stroke="#f79646" stroke-width="1.7" fill="none"/><text x="452.4" y="394.6" font-size="13.5" text-anchor="start" textLength="35.2" lengthAdjust="spacingAndGlyphs" >C-PID</text>
<path d="M430.5,408.2 h20.3" stroke="#00b050" stroke-width="1.8" fill="none"/><text x="452.4" y="413.0" font-size="13.5" text-anchor="start" textLength="35.8" lengthAdjust="spacingAndGlyphs" >SMC1</text>
<path d="M430.5,426.7 h20.3" stroke="#0070c0" stroke-width="1.9" fill="none"/><text x="452.4" y="431.5" font-size="13.5" text-anchor="start" textLength="56.2" lengthAdjust="spacingAndGlyphs" >CFF-FPID</text>
<path d="M430.5,445.0 h20.3" stroke="#000" stroke-width="2.2" stroke-dasharray="6.6 3.9" fill="none"/><text x="452.4" y="449.8" font-size="13.5" text-anchor="start" textLength="64.0" lengthAdjust="spacingAndGlyphs" >Reference</text>
</g>
<text x="272.6" y="719.0" font-family="Liberation Serif, Times New Roman, serif" font-size="11.5" fill="#000">(<tspan font-weight="bold">b</tspan>)</text>
</svg>
</body></html>
